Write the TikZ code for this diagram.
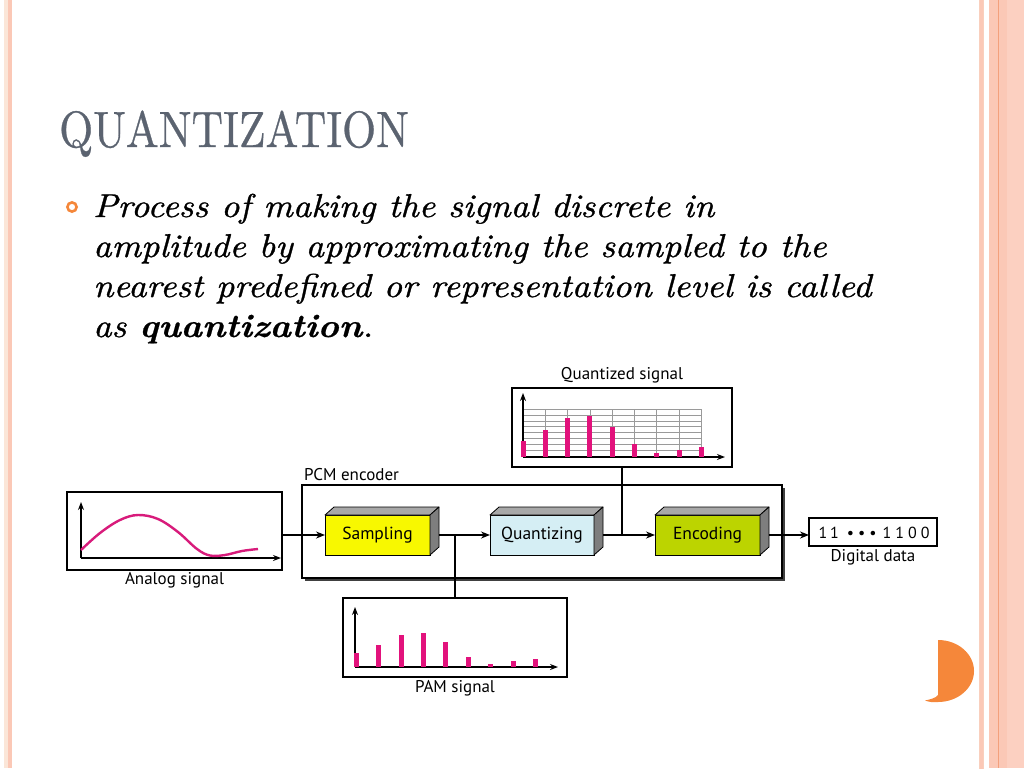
\documentclass[tikz,border=0pt]{standalone}
\usepackage{fontspec}
\usepackage{graphicx}
\newfontfamily\diag{PT Sans}
\newfontfamily\slide{lmroman10-regular}[Extension=.otf, ItalicFont=lmroman10-italic, BoldFont=lmroman10-bold, BoldItalicFont=lmroman10-bolditalic, ItalicFeatures={FakeBold=0.9}, BoldItalicFeatures={FakeBold=0.6}]
\newfontfamily\titlefont{lmroman10-regular}[Extension=.otf, FakeBold=0.6]
\usetikzlibrary{arrows.meta}
\definecolor{salmon}{HTML}{FBC8B6}
\definecolor{paleband}{HTML}{FBE6D8}
\definecolor{bandline}{HTML}{F3A07C}
\definecolor{orng}{HTML}{F5873A}
\definecolor{titlegray}{HTML}{5B6370}
\definecolor{magbar}{HTML}{E2127C}
\definecolor{magcurve}{HTML}{D81B7B}
\definecolor{sampyellow}{HTML}{F8F800}
\definecolor{quantblue}{HTML}{D5EEF4}
\definecolor{encgreen}{HTML}{BCD400}
\definecolor{topgray}{HTML}{A8A8A8}
\definecolor{sidegray}{HTML}{7E7E7E}
\definecolor{gridgray}{HTML}{9A9A9A}
\tikzset{
  box/.style={draw=black, line width=1.1pt, fill=white, inner sep=0pt, outer sep=0pt},
  blockface/.style={draw=black, line width=0.8pt, minimum height=40pt, inner sep=0pt, outer sep=0pt, font=\diag\fontsize{17.5}{19}\selectfont},
  lbl/.style={font=\diag\fontsize{17}{19}\selectfont, inner sep=0pt},
  conn/.style={line width=1.4pt, -{Stealth[length=9pt,width=7pt]}},
  plainline/.style={line width=1.2pt},
  axis/.style={line width=1.3pt, -{Stealth[length=8pt,width=6pt]}},
  bar/.style={fill=magbar, draw=none},
  bodytext/.style={anchor=base west, inner sep=0pt, font=\slide\fontsize{33}{40}\selectfont\itshape}
}
\newcommand\bodyline[1]{\scalebox{1.09}[1]{#1}}
\newcommand\mkblock[5]{%
  \node[blockface, fill=#4, minimum width=#3pt] (#1) at (#2+#3/2,535) {#5};
  \filldraw[fill=topgray, draw=black, line width=0.8pt, line join=round] (#1.north west) -- ++(9,-8) -- ++(#3,0) -- (#1.north east) -- cycle;
  \filldraw[fill=sidegray, draw=black, line width=0.8pt, line join=round] (#1.north east) -- ++(9,-8) -- ++(0,40) -- (#1.south east) -- cycle;
  \coordinate (#1R) at ([xshift=9pt]#1.east);
}
\begin{document}
\begin{tikzpicture}[x=1pt,y=-1pt]
\useasboundingbox (0,0) rectangle (1024,768);
\fill[white] (0,0) rectangle (1024,768);
% side bands
\fill[paleband] (4,0) rectangle (8,768);
\fill[salmon] (8,0) rectangle (12,768);
\filldraw[fill=salmon, draw=bandline!50, line width=0.6pt] (979,-1) rectangle (983,769);
\fill[salmon] (989,0) rectangle (1024,768);
\draw[bandline, line width=1pt] (998.5,0) -- (998.5,768);
\fill[salmon!85!white] (1007,0) rectangle (1024,768);
% orange mark
\fill[orng] (938,640) arc[start angle=-90, end angle=90, x radius=36, y radius=31]
  .. controls (933,702.5) and (929,702) .. (925,700.5)
  .. controls (930,699.5) and (936,698) .. (938,695) -- cycle;
% title
\node[anchor=base west, inner sep=0pt, text=titlegray, font=\titlefont\fontsize{51}{60}\selectfont] (title) at (59,147) {\scalebox{0.857}[1]{QUANTIZATION}};
% bullet
\draw[orng, line width=2.6pt] (72,207) circle (4.6);
\node[bodytext] (l1) at (93,217) {\bodyline{Process of making the signal discrete in}};
\node[bodytext] (l2) at (93,257) {\bodyline{amplitude by approximating the sampled to the}};
\node[bodytext] (l3) at (93,297) {\bodyline{nearest predefined or representation level is called}};
\node[bodytext] (l4) at (93,337) {\bodyline{as \textbf{quantization}.}};
% analog signal
\node[box, minimum width=215pt, minimum height=78pt] (ana) at (174.5,531) {};
\node[lbl] (analbl) at (ana.south |- 0,580) {Analog signal};
\draw[axis] (81,558) -- (81,502);
\draw[axis] (81,558) -- (281,558);
\draw[magcurve, line width=2.4pt] plot[smooth, tension=0.6] coordinates {(81,550) (100,533) (120,520) (138,515) (158,519) (178,532) (197,549) (210,555.5) (225,555) (242,551) (258,549)};
% PCM encoder
\fill[black!75] (305,488) rectangle (785,581);
\node[box, minimum width=480pt, minimum height=93pt] (pcm) at (542,531.5) {};
\node[lbl, anchor=west] (pcmlbl) at (304,475) {PCM encoder};
\mkblock{samp}{325}{105}{sampyellow}{Sampling}
\mkblock{quant}{490}{104}{quantblue}{Quantizing}
\mkblock{enc}{655}{105}{encgreen}{Encoding}
% quantized signal box
\node[box, minimum width=220pt, minimum height=79pt] (qs) at (622,427.5) {};
\node[lbl] (qslbl) at (622,375) {Quantized signal};
\foreach \k in {0,...,7} \draw[gridgray, line width=0.7pt] (523,409.3+5.84*\k) -- (702,409.3+5.84*\k);
\foreach \k in {1,...,8} \draw[gridgray, line width=0.7pt] (523+22.3*\k,409.3) -- (523+22.3*\k,457);
\draw[axis] (523,457) -- (523,393);
\draw[axis] (523,457) -- (725,457);
\foreach \k/\t in {0/441,1/430,2/418,3/416,4/427,5/444,6/453,7/450,8/447}
  \fill[bar] (523+22.3*\k-2.5,\t) rectangle (523+22.3*\k+2.5,456.5);
% PAM signal box
\node[box, minimum width=224pt, minimum height=79pt] (pam) at (455,637.5) {};
\node[lbl] (pamlbl) at (455,688) {PAM signal};
\draw[axis] (355,667) -- (355,607);
\draw[axis] (355,667) -- (558,667);
\foreach \x/\t in {356/653,378/645,401/635,423/633,445/642,468/657,490/664,513/661,535/659}
  \fill[bar] (\x-2.5,\t) rectangle (\x+2.5,666.5);
% digital data
\node[box, minimum width=128pt, minimum height=28pt] (dig) at (873,532) {};
\node[lbl, font=\diag\fontsize{16}{18}\selectfont] (digtxt) at (874,532.5) {1\hspace{3pt}1\hspace{8pt}•\hspace{4pt}•\hspace{4pt}•\hspace{6pt}1\hspace{4pt}1\hspace{4pt}0\hspace{4pt}0};
\node[lbl] (diglbl) at (873,557) {Digital data};
% connectors
\draw[conn] (ana.east |- samp.west) -- (samp.west);
\draw[conn] (sampR) -- (quant.west);
\draw[plainline] (pam.north |- samp.east) -- (pam.north);
\draw[conn] (quantR) -- (enc.west);
\draw[plainline] (qs.south) -- (qs.south |- quant.east);
\draw[conn] (encR) -- (encR -| dig.west);
\end{tikzpicture}
\end{document}
